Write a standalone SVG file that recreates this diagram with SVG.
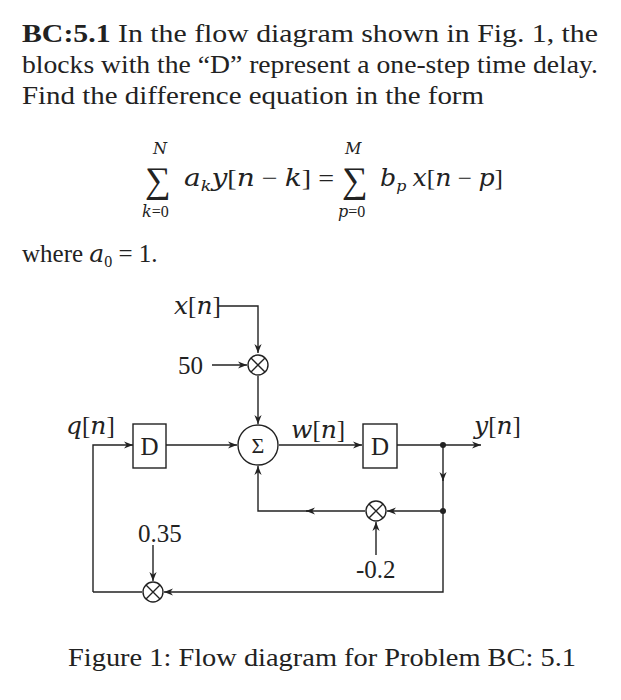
<svg xmlns="http://www.w3.org/2000/svg" width="621" height="700" viewBox="0 0 621 700">
<defs>
<marker id="a" viewBox="0 0 10 10" refX="10" refY="5" markerWidth="9" markerHeight="9" markerUnits="userSpaceOnUse" orient="auto"><path d="M0,1 L10,5 L0,9 L3,5 Z" fill="#222"/></marker>
</defs>
<style>
text,tspan{font-family:"Liberation Serif","DejaVu Serif",serif;fill:#222}
.t{font-size:25px}
.l{font-size:25px}
.i{font-style:italic;font-family:"DejaVu Serif","Liberation Serif",serif}
.c{stroke:#222;stroke-width:1.4;fill:none}
.n{stroke:#222;stroke-width:1.4;fill:#fff}
</style>
<rect width="621" height="700" fill="#fff"/>
<text class="t" x="22" y="42" textLength="576" lengthAdjust="spacingAndGlyphs"><tspan font-weight="bold">BC:5.1</tspan> In the flow diagram shown in Fig. 1, the</text>
<text class="t" x="22" y="73" textLength="576" lengthAdjust="spacingAndGlyphs">blocks with the “D” represent a one-step time delay.</text>
<text class="t" x="22" y="104" textLength="462" lengthAdjust="spacingAndGlyphs">Find the difference equation in the form</text>
<text x="145" y="192" font-size="36">∑</text>
<text x="153" y="154" font-size="16" class="i">N</text>
<text x="142" y="217" font-size="16"><tspan class="i">k</tspan>=0</text>
<text x="184" y="186" font-size="24" textLength="150" lengthAdjust="spacingAndGlyphs"><tspan class="i">a</tspan><tspan class="i" font-size="15" dy="5">k</tspan><tspan class="i" dy="-5">y</tspan>[<tspan class="i">n</tspan> − <tspan class="i">k</tspan>] =</text>
<text x="342" y="192" font-size="36">∑</text>
<text x="345" y="154" font-size="16" class="i">M</text>
<text x="338" y="217" font-size="16"><tspan class="i">p</tspan>=0</text>
<text x="380" y="186" font-size="24" textLength="123" lengthAdjust="spacingAndGlyphs"><tspan class="i">b</tspan><tspan class="i" font-size="15" dy="5">p</tspan><tspan dy="-5"> </tspan><tspan class="i">x</tspan>[<tspan class="i">n</tspan> − <tspan class="i">p</tspan>]</text>
<text class="t" x="22" y="262">where <tspan class="i">a</tspan><tspan font-size="16" dy="5">0</tspan><tspan dy="-5"> = 1.</tspan></text>
<g id="connectors">
<path class="c" d="M218,306 H258 V353" marker-end="url(#a)"/>
<path class="c" d="M212,365 H247" marker-end="url(#a)"/>
<path class="c" d="M258,376 V424" marker-end="url(#a)"/>
<path class="c" d="M93,592 V445 H133" marker-end="url(#a)"/>
<path class="c" d="M166,445 H237" marker-end="url(#a)"/>
<path class="c" d="M279,445 H362" marker-end="url(#a)"/>
<path class="c" d="M397,445 H481" marker-end="url(#a)"/>
<path class="c" d="M443,445 V481" marker-end="url(#a)"/>
<path class="c" d="M443,475 V592 H164" marker-end="url(#a)"/>
<path class="c" d="M443,511 H387" marker-end="url(#a)"/>
<path class="c" d="M365,511 H306" marker-end="url(#a)"/>
<path class="c" d="M310,511 H258 V466" marker-end="url(#a)"/>
<path class="c" d="M376,555 V522" marker-end="url(#a)"/>
<path class="c" d="M153,545 V581" marker-end="url(#a)"/>
<path class="c" d="M142,592 H93"/>
<circle cx="443" cy="445" r="3" fill="#222"/>
<circle cx="443" cy="511" r="3" fill="#222"/>
</g>
<g id="x"><text class="l" x="174" y="314"><tspan class="i">x</tspan>[<tspan class="i">n</tspan>]</text></g>
<g id="g50"><text class="l" x="178" y="374">50</text></g>
<g id="m1"><circle class="n" cx="258" cy="365" r="10"/><path class="c" d="M251,358 L265,372 M265,358 L251,372"/></g>
<g id="sum"><circle class="n" cx="258" cy="445" r="20"/><text x="258" y="453" font-size="22" text-anchor="middle">Σ</text></g>
<g id="q"><text class="l" x="66" y="434"><tspan class="i">q</tspan>[<tspan class="i">n</tspan>]</text></g>
<g id="d1"><rect class="n" x="133" y="424" width="33" height="44"/><text x="149.5" y="455" font-size="25" text-anchor="middle">D</text></g>
<g id="w"><text class="l" x="291" y="438"><tspan class="i">w</tspan>[<tspan class="i">n</tspan>]</text></g>
<g id="d2"><rect class="n" x="363" y="424" width="34" height="44"/><text x="380" y="455" font-size="25" text-anchor="middle">D</text></g>
<g id="y"><text class="l" x="474" y="434"><tspan class="i">y</tspan>[<tspan class="i">n</tspan>]</text></g>
<g id="m2"><circle class="n" cx="376" cy="511" r="10"/><path class="c" d="M369,504 L383,518 M383,504 L369,518"/></g>
<g id="gm02"><text class="l" x="356" y="578">-0.2</text></g>
<g id="g035"><text class="l" x="138" y="542">0.35</text></g>
<g id="m3"><circle class="n" cx="153" cy="592" r="10"/><path class="c" d="M146,585 L160,599 M160,585 L146,599"/></g>
<text class="t" x="68" y="666" textLength="508" lengthAdjust="spacingAndGlyphs">Figure 1: Flow diagram for Problem BC: 5.1</text>
</svg>
